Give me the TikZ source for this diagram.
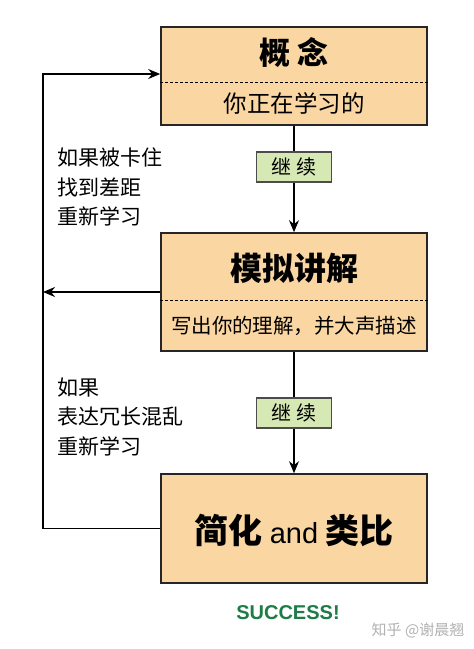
\documentclass[tikz,border=0pt]{standalone}
\usepackage{fontspec}
\setmainfont{Noto Sans CJK SC}
\newfontfamily\latinsans{Liberation Sans}
\usetikzlibrary{arrows.meta,positioning}
\definecolor{peach}{RGB}{250,214,162}
\definecolor{leaf}{RGB}{214,232,180}
\definecolor{winner}{RGB}{30,125,70}
\tikzset{
  stagebox/.style={draw=black!85,line width=1.6pt,fill=peach,minimum width=266pt,inner sep=0pt},
  gobox/.style={draw=black!70,line width=1.2pt,fill=leaf,minimum width=75pt,minimum height=30pt,inner sep=0pt,font=\fontsize{20}{24}\selectfont},
  flow/.style={line width=1.4pt,-{Stealth[length=12pt,width=10pt]}},
  plain/.style={line width=1.4pt},
  sep/.style={line width=1pt,dash pattern=on 3pt off 2pt},
}

\begin{document}
\begin{tikzpicture}[x=1pt,y=-1pt]
    \useasboundingbox[fill=white] (0,0) rectangle (474,649);
    % Drawing the three stages
    \node[stagebox,minimum height=98pt] (concept) at (294,76) {};
    \node[stagebox,minimum height=118pt] (explain) at (294,292) {};
    \node[stagebox,minimum height=109pt] (simplify) at (294,528.5) {};
    \draw[sep] (concept.west |- 0,82) -- (concept.east |- 0,82);
    \draw[sep] (explain.west |- 0,300) -- (explain.east |- 0,300);
    % Labelling the stages
    \node[font=\fontsize{31}{36}\bfseries\selectfont] (conceptT) at (294,53) {概 念};
    \node[font=\fontsize{23.5}{28}\selectfont] (conceptS) at (294,103) {你正在学习的};
    \node[font=\fontsize{32}{36}\bfseries\selectfont] (explainT) at (294,268) {模拟讲解};
    \node[font=\fontsize{20.5}{24}\selectfont] (explainS) at (294,326) {写出你的理解，并大声描述};
    \node[font=\fontsize{34}{40}\bfseries\selectfont] (simplifyT) at (294,530)
      {简化 {\latinsans\mdseries\fontsize{29}{34}\selectfont and} 类比};
    % Going on
    \node[gobox] (go1) at (294,167) {继 续};
    \node[gobox] (go2) at (294,413) {继 续};
    \draw[plain] (concept) -- (go1);
    \draw[flow] (go1) -- (explain);
    \draw[plain] (explain) -- (go2);
    \draw[flow] (go2) -- (simplify);
    % Going back
    \coordinate (loopbot) at (43,528.5);
    \coordinate (looptop) at (43,74);
    \draw[flow] (simplify.west) -- (loopbot) -- (looptop) -- (concept.west |- looptop);
    \draw[flow] (explain.west) -- (explain.west -| loopbot);
    \node[anchor=west,align=left,font=\fontsize{21}{29.5}\selectfont] (stuck) at (54,187)
      {如果被卡住\\找到差距\\重新学习};
    \node[anchor=west,align=left,font=\fontsize{21}{29.5}\selectfont] (messy) at (54,417)
      {如果\\表达冗长混乱\\重新学习};
    % Result
    \node[font=\latinsans\bfseries\fontsize{20}{24}\selectfont,text=winner] (win) at (288,613) {SUCCESS!};
    \node[text=black!30,font=\fontsize{15}{18}\selectfont] (mark) at (418,630) {知乎 @谢晨翘};
  \end{tikzpicture}
\end{document}
